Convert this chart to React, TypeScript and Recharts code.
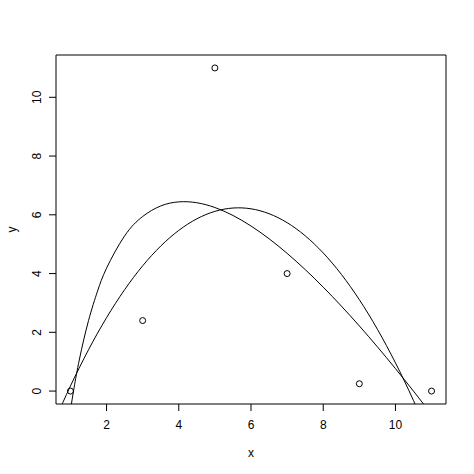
import React from "react";
import { ComposedChart, Line, Scatter, XAxis, YAxis, ReferenceArea, Label } from "recharts";

const pointsX = [1, 3, 5, 7, 9, 11];
const pointsY = [0, 2.4, 11, 4, 0.25, 0];

const quadX = [0.6, 1, 1.5, 2, 2.5, 3, 3.5, 4, 4.5, 5, 5.5, 6, 6.5, 7, 7.5, 8, 8.5, 9, 9.5, 10, 10.5, 11, 11.4];
const quadY = [-0.9135, 0.1731, 1.4056, 2.4983, 3.451, 4.2639, 4.937, 5.4702, 5.8636, 6.1171, 6.2309, 6.2047, 6.0387, 5.7329, 5.2872, 4.7016, 3.9762, 3.1111, 2.106, 0.9611, -0.3236, -1.7483, -2.9887];

const logX = [0.8, 0.9, 1, 1.1, 1.25, 1.5, 1.75, 2, 2.5, 3, 3.5, 4, 4.5, 5, 5.5, 6, 6.5, 7, 7.5, 8, 8.5, 9, 9.5, 10, 10.5, 11, 11.4];
const logY = [-2.5232, -1.521, -0.6518, 0.1099, 1.0906, 2.3964, 3.4006, 4.1844, 5.2819, 5.9426, 6.302, 6.4408, 6.411, 6.2484, 5.9782, 5.6192, 5.1857, 4.6887, 4.1369, 3.5376, 2.8963, 2.2179, 1.5065, 0.7654, -0.0025, -0.7947, -1.4445];

const xTicks = [2, 4, 6, 8, 10];
const yTicks = [0, 2, 4, 6, 8, 10];

const points = pointsX.map((x, i) => ({ x, y: pointsY[i] }));
const quadData = quadX.map((x, i) => ({ x, y: quadY[i] }));
const logData = logX.map((x, i) => ({ x, y: logY[i] }));

const FONT = "'Liberation Sans', Arial, Helvetica, sans-serif";

const XTick = (props: any) => {
  const { x, y, payload } = props;
  return (
    <text x={x} y={y + 12} textAnchor="middle" dominantBaseline="central" fontSize={12} fontFamily={FONT} fill="#000">
      {payload.value}
    </text>
  );
};

const YTick = (props: any) => {
  const { x, y, payload } = props;
  const cx = x - 10;
  return (
    <text x={cx} y={y} transform={`rotate(-90, ${cx}, ${y})`} textAnchor="middle" dominantBaseline="central" fontSize={12} fontFamily={FONT} fill="#000">
      {payload.value}
    </text>
  );
};

const Circle = (props: any) => {
  const { cx, cy } = props;
  return <circle cx={cx} cy={cy} r={3} fill="none" stroke="#000" strokeWidth={1} />;
};

export default function App() {
  return (
    <ComposedChart width={466} height={466} margin={{ top: 47, right: 28, left: 0, bottom: 20 }}>
      <XAxis
        type="number"
        dataKey="x"
        domain={[0.6, 11.4]}
        ticks={xTicks}
        allowDataOverflow
        axisLine={false}
        tickLine={{ stroke: "#000" }}
        tickSize={7}
        tickMargin={2}
        height={50}
        tick={<XTick />}
      >
        <Label
          content={(p: any) => {
            const vb = p.viewBox;
            return (
              <text x={vb.x + vb.width / 2} y={vb.y + 48.5} textAnchor="middle" dominantBaseline="central" fontSize={12} fontFamily={FONT} fill="#000">
                x
              </text>
            );
          }}
        />
      </XAxis>
      <YAxis
        type="number"
        dataKey="y"
        domain={[-0.44, 11.44]}
        ticks={yTicks}
        allowDataOverflow
        axisLine={false}
        tickLine={{ stroke: "#000" }}
        tickSize={7}
        tickMargin={2}
        width={48}
        tick={<YTick />}
      >
        <Label
          content={(p: any) => {
            const vb = p.viewBox;
            const cx = 3.5;
            const cy = vb.y + vb.height / 2;
            return (
              <text x={cx} y={cy} transform={`rotate(-90, ${cx}, ${cy})`} textAnchor="middle" dominantBaseline="central" fontSize={12} fontFamily={FONT} fill="#000">
                y
              </text>
            );
          }}
        />
      </YAxis>
      <ReferenceArea x1={0.6} x2={11.4} y1={-0.44} y2={11.44} fill="none" fillOpacity={0} stroke="#000" strokeWidth={1} ifOverflow="visible" />
      <Line data={quadData} dataKey="y" type="natural" dot={false} stroke="#000" strokeWidth={1} isAnimationActive={false} />
      <Line data={logData} dataKey="y" type="natural" dot={false} stroke="#000" strokeWidth={1} isAnimationActive={false} />
      <Scatter data={points} dataKey="y" shape={<Circle />} isAnimationActive={false} />
    </ComposedChart>
  );
}
